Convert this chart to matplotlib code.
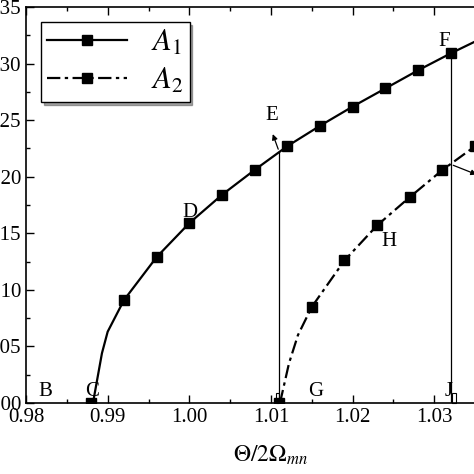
import matplotlib
matplotlib.use('Agg')
import matplotlib.pyplot as plt
from matplotlib.patches import Rectangle

plt.rcParams['font.family'] = ['Liberation Serif', 'DejaVu Serif']
plt.rcParams['mathtext.fontset'] = 'stix'

# A1 branch (line points, markers)
a1_line_x = [0.9882, 0.9893, 0.9900, 0.9920, 0.9960, 1.000, 1.004, 1.008, 1.012, 1.016, 1.020, 1.024, 1.028, 1.032, 1.036, 1.040]
a1_line_y = [0.000, 0.044, 0.063, 0.091, 0.129, 0.159, 0.184, 0.206, 0.227, 0.245, 0.262, 0.278, 0.294, 0.309, 0.323, 0.336]
a1_mark_x = [0.988, 0.992, 0.996, 1.000, 1.004, 1.008, 1.012, 1.016, 1.020, 1.024, 1.028, 1.032, 1.036, 1.040]
a1_mark_y = [0.000, 0.091, 0.129, 0.159, 0.184, 0.206, 0.227, 0.245, 0.262, 0.278, 0.294, 0.309, 0.323, 0.336]
# A2 branch
a2_line_x = [1.0111, 1.0122, 1.0133, 1.015, 1.019, 1.023, 1.027, 1.031, 1.035, 1.039]
a2_line_y = [0.000, 0.035, 0.060, 0.085, 0.126, 0.157, 0.182, 0.206, 0.227, 0.246]
a2_mark_x = [1.011, 1.015, 1.019, 1.023, 1.027, 1.031, 1.035, 1.039]
a2_mark_y = [0.000, 0.085, 0.126, 0.157, 0.182, 0.206, 0.227, 0.246]

# vertical jump lines
jump_x = [1.011, 1.032]
jump_top = [0.222, 0.309]

labels = ['B', 'C', 'D', 'E', 'F', 'G', 'H', 'J']
label_x = [0.9815, 0.9873, 0.9992, 1.0093, 1.0305, 1.0145, 1.0235, 1.0313]
label_y = [0.002, 0.002, 0.160, 0.246, 0.311, 0.002, 0.134, 0.002]

fig = plt.figure(figsize=(4.74, 4.74), dpi=100)
ax = fig.add_axes([26 / 474, 71 / 474, 490 / 474, 396 / 474])

ax.plot(a1_line_x, a1_line_y, '-', color='black', lw=1.6)
ax.plot(a1_mark_x, a1_mark_y, 's', color='black', ms=7)
ax.plot(a2_line_x, a2_line_y, linestyle=(0, (6, 2, 1.5, 2)), color='black', lw=1.6)
ax.plot(a2_mark_x, a2_mark_y, 's', color='black', ms=7)
ax.plot([], [], '-s', color='black', lw=1.6, ms=7, label='$A_1$')
ax.plot([], [], marker='s', linestyle=(0, (6, 2, 1.5, 2)), color='black', lw=1.6, ms=7, label='$A_2$')

for x, top in zip(jump_x, jump_top):
    ax.plot([x, x], [0, top], color='black', lw=0.9)
    ax.add_patch(Rectangle((x - 0.0004, 0), 0.0004 if x < 1.02 else 0.0, 0.0, fill=False))
ax.add_patch(Rectangle((1.0106, 0), 0.0004, 0.009, fill=False, lw=0.8, clip_on=False))
ax.add_patch(Rectangle((1.0322, 0), 0.0004, 0.009, fill=False, lw=0.8, clip_on=False))

ax.annotate('', xy=(1.0101, 0.240), xytext=(1.011, 0.222),
            arrowprops=dict(arrowstyle='-|>', color='black', lw=0.9, mutation_scale=8))
ax.annotate('', xy=(1.0355, 0.201), xytext=(1.032, 0.211),
            arrowprops=dict(arrowstyle='-|>', color='black', lw=0.9, mutation_scale=8))

for t, x, y in zip(labels, label_x, label_y):
    ax.text(x, y, t, fontsize=15, va='bottom', ha='left')

ax.set_xlim(0.98, 1.04)
ax.set_ylim(0.0, 0.35)
ax.set_xticks([0.98, 0.99, 1.00, 1.01, 1.02, 1.03, 1.04])
ax.set_xticklabels(['0.98', '0.99', '1.00', '1.01', '1.02', '1.03', '1.04'])
ax.set_yticks([0.0, 0.05, 0.10, 0.15, 0.20, 0.25, 0.30, 0.35])
ax.set_yticklabels(['0.00', '0.05', '0.10', '0.15', '0.20', '0.25', '0.30', '0.35'])
ax.set_xticks([0.985, 0.995, 1.005, 1.015, 1.025, 1.035], minor=True)
ax.set_yticks([0.025, 0.075, 0.125, 0.175, 0.225, 0.275, 0.325], minor=True)
ax.tick_params(which='both', direction='in', top=True, right=True, labelsize=15, width=1)
ax.tick_params(which='major', length=6)
ax.tick_params(which='minor', length=3)
for s in ax.spines.values():
    s.set_linewidth(1.2)
ax.set_xlabel(r'$\mathit{\Theta}/2\mathit{\Omega}_{mn}$', fontsize=17, labelpad=12)

leg = ax.legend(loc='upper left', bbox_to_anchor=(0.0, 1.0), fontsize=22, handlelength=2.6,
                fancybox=False, shadow=True, framealpha=1, edgecolor='black', borderpad=0.2,
                labelspacing=0.3)
leg.get_frame().set_linewidth(1.0)

fig.savefig('out.png', dpi=100, facecolor='white')
